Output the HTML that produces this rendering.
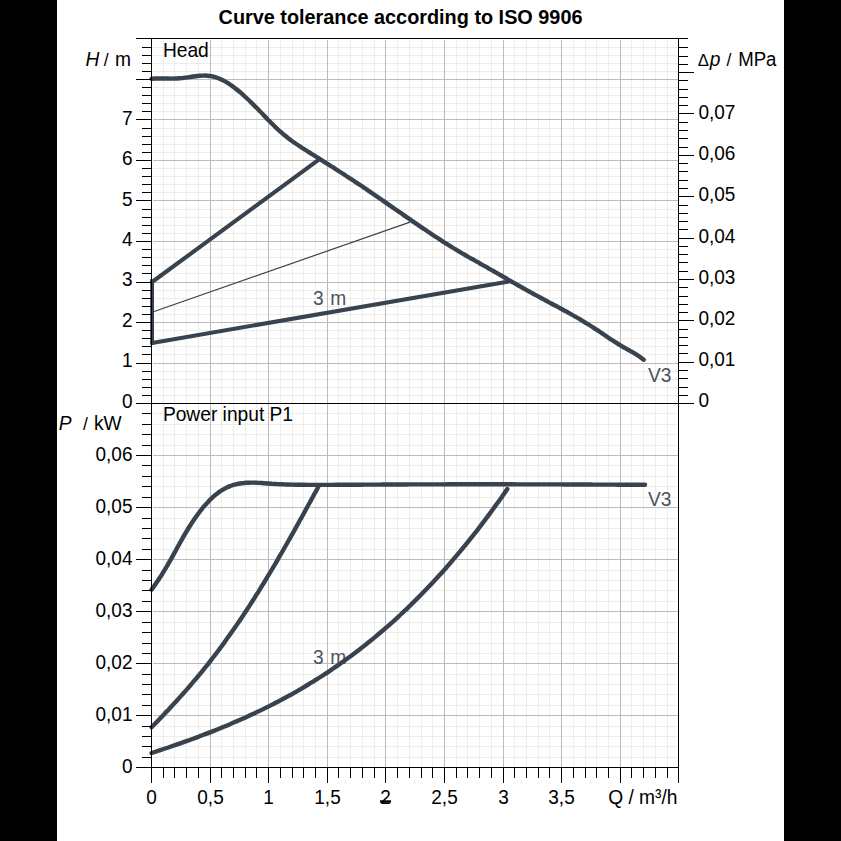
<!DOCTYPE html>
<html><head><meta charset="utf-8"><title>Curve tolerance according to ISO 9906</title>
<style>html,body{margin:0;padding:0;background:#fff}body{width:841px;height:841px;overflow:hidden}svg{display:block}text{font-family:"Liberation Sans",sans-serif;fill:#000}.t{font-size:19px}.b{font-size:19.85px;font-weight:700}.l{font-size:19.2px}.i{font-style:italic}.g{fill:#4b545d}</style></head><body>
<svg width="841" height="841" viewBox="0 0 841 841">
<rect x="0" y="0" width="841" height="841" fill="#fff"/>
<rect x="0" y="0" width="57" height="841" fill="#000"/>
<rect x="784" y="0" width="57" height="841" fill="#000"/>
<path d="M163.5 39.5V766.5M174.5 39.5V766.5M186.5 39.5V766.5M198.5 39.5V766.5M221.5 39.5V766.5M233.5 39.5V766.5M245.5 39.5V766.5M256.5 39.5V766.5M280.5 39.5V766.5M292.5 39.5V766.5M303.5 39.5V766.5M315.5 39.5V766.5M338.5 39.5V766.5M350.5 39.5V766.5M362.5 39.5V766.5M374.5 39.5V766.5M397.5 39.5V766.5M409.5 39.5V766.5M421.5 39.5V766.5M432.5 39.5V766.5M456.5 39.5V766.5M467.5 39.5V766.5M479.5 39.5V766.5M491.5 39.5V766.5M514.5 39.5V766.5M526.5 39.5V766.5M538.5 39.5V766.5M549.5 39.5V766.5M573.5 39.5V766.5M585.5 39.5V766.5M596.5 39.5V766.5M608.5 39.5V766.5M631.5 39.5V766.5M643.5 39.5V766.5M655.5 39.5V766.5M667.5 39.5V766.5M152.5 395.5H678.0M152.5 387.5H678.0M152.5 379.5H678.0M152.5 371.5H678.0M152.5 354.5H678.0M152.5 346.5H678.0M152.5 338.5H678.0M152.5 330.5H678.0M152.5 314.5H678.0M152.5 306.5H678.0M152.5 298.5H678.0M152.5 290.5H678.0M152.5 273.5H678.0M152.5 265.5H678.0M152.5 257.5H678.0M152.5 249.5H678.0M152.5 233.5H678.0M152.5 225.5H678.0M152.5 217.5H678.0M152.5 209.5H678.0M152.5 192.5H678.0M152.5 184.5H678.0M152.5 176.5H678.0M152.5 168.5H678.0M152.5 152.5H678.0M152.5 144.5H678.0M152.5 136.5H678.0M152.5 128.5H678.0M152.5 111.5H678.0M152.5 103.5H678.0M152.5 95.5H678.0M152.5 87.5H678.0M152.5 71.5H678.0M152.5 63.5H678.0M152.5 55.5H678.0M152.5 47.5H678.0M152.5 757.5H678.0M152.5 746.5H678.0M152.5 736.5H678.0M152.5 726.5H678.0M152.5 705.5H678.0M152.5 694.5H678.0M152.5 684.5H678.0M152.5 674.5H678.0M152.5 653.5H678.0M152.5 643.5H678.0M152.5 632.5H678.0M152.5 622.5H678.0M152.5 601.5H678.0M152.5 590.5H678.0M152.5 580.5H678.0M152.5 570.5H678.0M152.5 549.5H678.0M152.5 538.5H678.0M152.5 528.5H678.0M152.5 518.5H678.0M152.5 497.5H678.0M152.5 486.5H678.0M152.5 476.5H678.0M152.5 465.5H678.0M152.5 445.5H678.0M152.5 434.5H678.0M152.5 424.5H678.0M152.5 413.5H678.0" stroke="#eeede9" stroke-width="1" fill="none" shape-rendering="crispEdges"/>
<path d="M210.5 39.5V766.5M268.5 39.5V766.5M327.5 39.5V766.5M385.5 39.5V766.5M444.5 39.5V766.5M503.5 39.5V766.5M561.5 39.5V766.5M620.5 39.5V766.5M152.5 363.5H678.0M152.5 322.5H678.0M152.5 282.5H678.0M152.5 241.5H678.0M152.5 200.5H678.0M152.5 160.5H678.0M152.5 119.5H678.0M152.5 79.5H678.0M152.5 715.5H678.0M152.5 663.5H678.0M152.5 611.5H678.0M152.5 559.5H678.0M152.5 507.5H678.0M152.5 455.5H678.0" stroke="#bcbcbc" stroke-width="1" fill="none" shape-rendering="crispEdges"/>
<text class="l g" transform="translate(313.0 304.5) scale(1 1.05)">3<tspan dx="1.2"> m</tspan></text>
<text class="l g" transform="translate(313.0 663.5) scale(1 1.05)">3<tspan dx="1.2"> m</tspan></text>
<text class="l g" transform="translate(648.0 381.5) scale(1 1.05)">V3</text>
<text class="l g" transform="translate(648.0 505.6) scale(1 1.05)">V3</text>
<g fill="none" stroke="#38434e" stroke-linecap="round" stroke-linejoin="round">
<path d="M151.6 78.7C152.3 78.6 154.3 78.5 155.6 78.5C156.9 78.5 158.3 78.5 159.6 78.5C160.9 78.5 162.3 78.5 163.6 78.5C164.9 78.5 166.3 78.5 167.6 78.5C168.9 78.6 170.3 78.6 171.6 78.6C172.9 78.5 174.3 78.5 175.6 78.5C176.9 78.5 178.3 78.4 179.6 78.3C180.9 78.2 182.3 78.1 183.6 77.9C184.9 77.8 186.3 77.6 187.6 77.4C188.9 77.2 190.3 77.0 191.6 76.8C192.9 76.6 194.3 76.4 195.6 76.2C196.9 76.1 198.3 75.9 199.6 75.8C200.9 75.7 202.3 75.6 203.6 75.6C204.9 75.5 206.3 75.6 207.6 75.7C208.9 75.8 210.3 76.0 211.6 76.2C212.9 76.5 214.3 76.8 215.6 77.2C216.9 77.7 218.3 78.2 219.6 78.7C220.9 79.3 222.3 79.9 223.6 80.6C224.9 81.3 226.3 82.1 227.6 82.9C228.9 83.8 230.3 84.7 231.6 85.6C232.9 86.5 234.3 87.5 235.6 88.6C237.0 89.6 238.3 90.7 239.6 91.8C241.0 92.9 242.3 94.1 243.6 95.3C245.0 96.5 246.3 97.7 247.6 99.0C249.0 100.3 250.3 101.6 251.6 102.9C253.0 104.2 254.3 105.5 255.6 106.9C257.0 108.2 258.3 109.6 259.6 111.0C261.0 112.3 262.3 113.7 263.6 115.1C265.0 116.5 266.3 117.9 267.6 119.3C269.0 120.6 270.3 122.0 271.6 123.3C273.0 124.7 274.3 126.0 275.6 127.3C277.0 128.5 278.3 129.8 279.6 131.0C281.0 132.2 282.3 133.3 283.6 134.5C285.0 135.6 286.3 136.6 287.6 137.7C289.0 138.7 290.3 139.7 291.6 140.7C293.0 141.7 294.3 142.6 295.6 143.5C297.0 144.4 298.3 145.3 299.6 146.2C301.0 147.1 302.3 148.0 303.6 148.8C305.0 149.7 306.3 150.5 307.6 151.4C309.0 152.2 310.3 153.0 311.6 153.9C313.0 154.7 314.3 155.6 315.6 156.4C317.0 157.2 318.3 158.1 319.6 158.9C321.0 159.8 322.3 160.6 323.6 161.5C325.0 162.3 326.3 163.1 327.6 164.0C329.0 164.8 330.3 165.7 331.6 166.5C333.0 167.4 334.3 168.2 335.6 169.1C337.0 169.9 338.3 170.8 339.6 171.7C341.0 172.5 342.3 173.4 343.6 174.2C345.0 175.1 346.3 176.0 347.6 176.8C349.0 177.7 350.3 178.6 351.6 179.4C353.0 180.3 354.3 181.2 355.6 182.1C357.0 183.0 358.3 183.9 359.6 184.7C361.0 185.6 362.3 186.5 363.6 187.4C365.0 188.3 366.3 189.2 367.6 190.1C369.0 191.0 370.3 192.0 371.6 192.9C373.0 193.8 374.3 194.7 375.6 195.6C377.0 196.5 378.3 197.4 379.6 198.4C381.0 199.3 382.3 200.2 383.6 201.1C385.0 202.1 386.3 203.0 387.6 203.9C389.0 204.9 390.3 205.8 391.6 206.7C393.0 207.6 394.3 208.6 395.6 209.5C397.0 210.4 398.3 211.4 399.7 212.3C401.0 213.2 402.3 214.1 403.7 215.1C405.0 216.0 406.3 216.9 407.7 217.8C409.0 218.8 410.3 219.7 411.7 220.6C413.0 221.5 414.3 222.5 415.7 223.4C417.0 224.3 418.3 225.2 419.7 226.1C421.0 227.0 422.3 227.9 423.7 228.8C425.0 229.7 426.3 230.6 427.7 231.5C429.0 232.4 430.3 233.3 431.7 234.2C433.0 235.1 434.3 235.9 435.7 236.8C437.0 237.7 438.3 238.5 439.7 239.4C441.0 240.3 442.3 241.1 443.7 242.0C445.0 242.8 446.3 243.7 447.7 244.5C449.0 245.3 450.3 246.2 451.7 247.0C453.0 247.8 454.3 248.6 455.7 249.4C457.0 250.2 458.3 251.0 459.7 251.8C461.0 252.6 462.3 253.4 463.7 254.2C465.0 255.0 466.3 255.7 467.7 256.5C469.0 257.3 470.3 258.0 471.7 258.8C473.0 259.5 474.3 260.3 475.7 261.1C477.0 261.8 478.3 262.6 479.7 263.3C481.0 264.1 482.3 264.8 483.7 265.6C485.0 266.3 486.3 267.1 487.7 267.8C489.0 268.6 490.3 269.3 491.7 270.1C493.0 270.8 494.3 271.6 495.7 272.4C497.0 273.1 498.3 273.9 499.7 274.7C501.0 275.4 502.3 276.2 503.7 277.0C505.0 277.7 506.3 278.5 507.7 279.3C509.0 280.1 510.3 280.8 511.7 281.6C513.0 282.4 514.3 283.1 515.7 283.9C517.0 284.7 518.3 285.4 519.7 286.2C521.0 287.0 522.3 287.7 523.7 288.5C525.0 289.2 526.3 290.0 527.7 290.7C529.0 291.5 530.3 292.2 531.7 292.9C533.0 293.7 534.3 294.4 535.7 295.1C537.0 295.8 538.3 296.6 539.7 297.3C541.0 298.0 542.3 298.7 543.7 299.4C545.0 300.1 546.3 300.9 547.7 301.6C549.0 302.3 550.3 303.0 551.7 303.7C553.0 304.4 554.3 305.1 555.7 305.8C557.0 306.5 558.3 307.3 559.7 308.0C561.0 308.7 562.4 309.4 563.7 310.2C565.0 310.9 566.4 311.6 567.7 312.3C569.0 313.1 570.4 313.8 571.7 314.6C573.0 315.3 574.4 316.1 575.7 316.9C577.0 317.6 578.4 318.4 579.7 319.2C581.0 320.0 582.4 320.8 583.7 321.6C585.0 322.4 586.4 323.2 587.7 324.0C589.0 324.8 590.4 325.7 591.7 326.5C593.0 327.4 594.4 328.2 595.7 329.1C597.0 330.0 598.4 330.9 599.7 331.8C601.0 332.7 602.4 333.6 603.7 334.5C605.0 335.4 606.4 336.3 607.7 337.2C609.0 338.1 610.4 339.0 611.7 339.9C613.0 340.7 614.4 341.6 615.7 342.4C617.0 343.3 618.4 344.1 619.7 344.9C621.0 345.7 622.4 346.5 623.7 347.3C625.0 348.0 626.4 348.8 627.7 349.5C629.0 350.2 630.4 351.0 631.7 351.7C633.0 352.5 634.4 353.3 635.7 354.1C637.0 354.9 638.4 355.8 639.7 356.7C641.0 357.7 643.0 359.2 643.7 359.7" stroke-width="4.4"/>
<path d="M318.5 159.9L152.1 282M152.1 342.9L509 281.5" stroke-width="4.1"/>
<path d="M152.1 279.2V344.8" stroke-width="3.8" stroke-linecap="butt"/>
<path d="M152 312.3L410 222.1" stroke-width="1.2" stroke-linecap="butt"/>
<path d="M151.6 589.6C152.3 588.7 154.3 585.9 155.6 584.0C156.9 582.1 158.3 580.1 159.6 578.0C161.0 576.0 162.3 573.8 163.6 571.7C165.0 569.5 166.3 567.3 167.6 565.0C169.0 562.7 170.3 560.3 171.7 557.9C173.0 555.5 174.3 553.1 175.7 550.6C177.0 548.2 178.3 545.7 179.7 543.3C181.0 540.9 182.4 538.5 183.7 536.2C185.0 533.9 186.4 531.6 187.7 529.5C189.0 527.3 190.4 525.2 191.7 523.1C193.1 521.1 194.4 519.1 195.7 517.2C197.1 515.3 198.4 513.5 199.7 511.7C201.1 510.0 202.4 508.3 203.7 506.7C205.1 505.1 206.4 503.6 207.8 502.2C209.1 500.7 210.4 499.4 211.8 498.1C213.1 496.8 214.4 495.7 215.8 494.6C217.1 493.5 218.5 492.5 219.8 491.5C221.1 490.6 222.5 489.8 223.8 489.1C225.1 488.3 226.5 487.6 227.8 487.0C229.2 486.5 230.5 485.9 231.8 485.5C233.2 485.0 234.5 484.7 235.8 484.3C237.2 484.0 238.5 483.7 239.9 483.5C241.2 483.3 242.5 483.1 243.9 483.0C245.2 482.8 246.5 482.8 247.9 482.7C249.2 482.6 250.5 482.6 251.9 482.6C253.2 482.6 254.6 482.7 255.9 482.7C257.2 482.8 258.6 482.9 259.9 482.9C261.2 483.0 262.6 483.1 263.9 483.2C265.3 483.3 266.6 483.4 267.9 483.5C269.3 483.6 270.6 483.7 271.9 483.8C273.3 483.8 274.6 483.9 276.0 484.0C277.3 484.1 278.6 484.1 280.0 484.2C281.3 484.3 282.6 484.3 284.0 484.4C285.3 484.4 286.6 484.5 288.0 484.5C289.3 484.6 290.7 484.6 292.0 484.6C293.3 484.7 294.7 484.7 296.0 484.7C297.3 484.7 298.7 484.8 300.0 484.8C301.4 484.8 302.7 484.8 304.0 484.8C305.4 484.9 306.7 484.9 308.0 484.9C309.4 484.9 310.7 484.9 312.1 484.9C313.4 484.9 314.7 484.9 316.1 484.9C317.4 484.9 318.7 484.9 320.1 484.9C321.4 484.9 322.8 484.9 324.1 484.9C325.4 484.9 326.8 484.9 328.1 484.9C329.4 484.9 330.8 484.9 332.1 484.9C333.4 484.8 334.8 484.8 336.1 484.8C337.5 484.8 338.8 484.8 340.1 484.8C341.5 484.8 342.8 484.8 344.1 484.8C345.5 484.8 346.8 484.8 348.2 484.7C349.5 484.7 350.8 484.7 352.2 484.7C353.5 484.7 354.8 484.7 356.2 484.7C357.5 484.7 358.9 484.7 360.2 484.7C361.5 484.7 362.9 484.7 364.2 484.6C365.5 484.6 366.9 484.6 368.2 484.6C369.6 484.6 370.9 484.6 372.2 484.6C373.6 484.6 374.9 484.6 376.2 484.6C377.6 484.6 378.9 484.6 380.2 484.6C381.6 484.6 382.9 484.5 384.3 484.5C385.6 484.5 386.9 484.5 388.3 484.5C389.6 484.5 390.9 484.5 392.3 484.5C393.6 484.5 395.0 484.5 396.3 484.5C397.6 484.5 399.0 484.5 400.3 484.5C401.6 484.5 403.0 484.5 404.3 484.5C405.7 484.5 407.0 484.4 408.3 484.4C409.7 484.4 411.0 484.4 412.3 484.4C413.7 484.4 415.0 484.4 416.4 484.4C417.7 484.4 419.0 484.4 420.4 484.4C421.7 484.4 423.0 484.4 424.4 484.4C425.7 484.4 427.0 484.4 428.4 484.4C429.7 484.4 431.1 484.4 432.4 484.4C433.7 484.4 435.1 484.4 436.4 484.4C437.7 484.4 439.1 484.4 440.4 484.4C441.8 484.4 443.1 484.4 444.4 484.4C445.8 484.4 447.1 484.4 448.4 484.3C449.8 484.3 451.1 484.3 452.5 484.3C453.8 484.3 455.1 484.3 456.5 484.3C457.8 484.3 459.1 484.3 460.5 484.3C461.8 484.3 463.2 484.3 464.5 484.3C465.8 484.3 467.2 484.3 468.5 484.3C469.8 484.3 471.2 484.3 472.5 484.3C473.8 484.3 475.2 484.3 476.5 484.3C477.9 484.3 479.2 484.3 480.5 484.3C481.9 484.3 483.2 484.3 484.5 484.3C485.9 484.3 487.2 484.3 488.6 484.3C489.9 484.3 491.2 484.3 492.6 484.3C493.9 484.3 495.2 484.3 496.6 484.3C497.9 484.3 499.3 484.3 500.6 484.3C501.9 484.3 503.3 484.3 504.6 484.3C505.9 484.3 507.3 484.3 508.6 484.3C510.0 484.3 511.3 484.3 512.6 484.3C514.0 484.3 515.3 484.3 516.6 484.4C518.0 484.4 519.3 484.4 520.6 484.4C522.0 484.4 523.3 484.4 524.7 484.4C526.0 484.4 527.3 484.4 528.7 484.4C530.0 484.4 531.3 484.4 532.7 484.4C534.0 484.4 535.4 484.4 536.7 484.4C538.0 484.4 539.4 484.4 540.7 484.4C542.0 484.4 543.4 484.4 544.7 484.4C546.1 484.4 547.4 484.4 548.7 484.4C550.1 484.4 551.4 484.4 552.7 484.4C554.1 484.4 555.4 484.4 556.7 484.4C558.1 484.4 559.4 484.4 560.8 484.4C562.1 484.5 563.4 484.5 564.8 484.5C566.1 484.5 567.4 484.5 568.8 484.5C570.1 484.5 571.5 484.5 572.8 484.5C574.1 484.5 575.5 484.5 576.8 484.5C578.1 484.5 579.5 484.5 580.8 484.5C582.2 484.5 583.5 484.5 584.8 484.5C586.2 484.5 587.5 484.5 588.8 484.5C590.2 484.5 591.5 484.6 592.9 484.6C594.2 484.6 595.5 484.6 596.9 484.6C598.2 484.6 599.5 484.6 600.9 484.6C602.2 484.6 603.5 484.6 604.9 484.6C606.2 484.6 607.6 484.6 608.9 484.6C610.2 484.6 611.6 484.6 612.9 484.6C614.2 484.6 615.6 484.7 616.9 484.7C618.3 484.7 619.6 484.7 620.9 484.7C622.3 484.7 623.6 484.7 624.9 484.7C626.3 484.7 627.6 484.7 629.0 484.7C630.3 484.7 631.6 484.7 633.0 484.7C634.3 484.7 635.6 484.7 637.0 484.8C638.3 484.8 639.7 484.8 641.0 484.8C642.3 484.8 644.3 484.8 645.0 484.8" stroke-width="4.4"/>
<path d="M151.6 727.2C152.3 726.5 154.4 724.3 155.9 722.8C157.3 721.4 158.7 719.9 160.1 718.4C161.6 716.9 163.0 715.4 164.4 713.9C165.8 712.4 167.3 710.9 168.7 709.4C170.1 707.9 171.5 706.4 173.0 704.8C174.4 703.3 175.8 701.7 177.2 700.2C178.7 698.6 180.1 697.0 181.5 695.4C182.9 693.8 184.4 692.2 185.8 690.6C187.2 689.0 188.6 687.4 190.1 685.7C191.5 684.1 192.9 682.4 194.3 680.7C195.8 679.0 197.2 677.3 198.6 675.6C200.0 673.9 201.5 672.2 202.9 670.4C204.3 668.6 205.7 666.9 207.2 665.1C208.6 663.3 210.0 661.5 211.4 659.6C212.9 657.8 214.3 655.9 215.7 654.1C217.1 652.2 218.6 650.3 220.0 648.4C221.4 646.5 222.8 644.5 224.3 642.6C225.7 640.6 227.1 638.6 228.5 636.6C230.0 634.6 231.4 632.6 232.8 630.6C234.2 628.5 235.7 626.5 237.1 624.4C238.5 622.3 239.9 620.2 241.4 618.1C242.8 616.0 244.2 613.8 245.6 611.6C247.1 609.5 248.5 607.3 249.9 605.1C251.3 602.9 252.8 600.6 254.2 598.4C255.6 596.1 257.0 593.9 258.5 591.6C259.9 589.3 261.3 587.0 262.7 584.7C264.2 582.4 265.6 580.0 267.0 577.6C268.4 575.3 269.9 572.9 271.3 570.5C272.7 568.1 274.1 565.7 275.6 563.3C277.0 560.8 278.4 558.4 279.8 555.9C281.3 553.5 282.7 551.0 284.1 548.5C285.5 546.0 287.0 543.5 288.4 541.0C289.8 538.5 291.2 536.0 292.7 533.4C294.1 530.9 295.5 528.3 296.9 525.8C298.4 523.2 299.8 520.6 301.2 518.1C302.6 515.5 304.1 512.9 305.5 510.3C306.9 507.7 308.3 505.1 309.8 502.5C311.2 499.9 312.6 497.3 314.0 494.7C315.5 492.1 317.6 488.1 318.3 486.8" stroke-width="4.4"/>
<path d="M151.6 753.0C152.6 752.7 155.6 751.7 157.6 751.0C159.6 750.4 161.6 749.7 163.7 749.0C165.7 748.3 167.7 747.7 169.7 747.0C171.7 746.3 173.7 745.6 175.7 744.9C177.7 744.2 179.7 743.5 181.7 742.8C183.8 742.1 185.8 741.4 187.8 740.7C189.8 739.9 191.8 739.2 193.8 738.5C195.8 737.7 197.8 737.0 199.8 736.2C201.8 735.5 203.8 734.7 205.9 733.9C207.9 733.2 209.9 732.4 211.9 731.6C213.9 730.8 215.9 730.0 217.9 729.2C219.9 728.4 221.9 727.6 223.9 726.7C226.0 725.9 228.0 725.1 230.0 724.2C232.0 723.4 234.0 722.5 236.0 721.6C238.0 720.8 240.0 719.9 242.0 719.0C244.0 718.1 246.1 717.2 248.1 716.3C250.1 715.3 252.1 714.4 254.1 713.5C256.1 712.5 258.1 711.6 260.1 710.6C262.1 709.6 264.1 708.6 266.1 707.6C268.2 706.6 270.2 705.6 272.2 704.6C274.2 703.6 276.2 702.5 278.2 701.5C280.2 700.4 282.2 699.4 284.2 698.3C286.2 697.2 288.3 696.1 290.3 695.0C292.3 693.9 294.3 692.7 296.3 691.6C298.3 690.4 300.3 689.3 302.3 688.1C304.3 686.9 306.3 685.7 308.3 684.5C310.4 683.3 312.4 682.0 314.4 680.8C316.4 679.5 318.4 678.3 320.4 677.0C322.4 675.7 324.4 674.4 326.4 673.1C328.4 671.7 330.5 670.4 332.5 669.0C334.5 667.7 336.5 666.3 338.5 664.9C340.5 663.5 342.5 662.0 344.5 660.6C346.5 659.2 348.5 657.7 350.6 656.2C352.6 654.7 354.6 653.2 356.6 651.7C358.6 650.2 360.6 648.6 362.6 647.1C364.6 645.5 366.6 643.9 368.6 642.3C370.6 640.7 372.7 639.0 374.7 637.4C376.7 635.7 378.7 634.0 380.7 632.3C382.7 630.6 384.7 628.9 386.7 627.1C388.7 625.4 390.7 623.6 392.8 621.8C394.8 620.0 396.8 618.2 398.8 616.3C400.8 614.4 402.8 612.6 404.8 610.7C406.8 608.8 408.8 606.8 410.8 604.9C412.8 602.9 414.9 600.9 416.9 598.9C418.9 596.9 420.9 594.9 422.9 592.8C424.9 590.8 426.9 588.7 428.9 586.6C430.9 584.5 432.9 582.3 435.0 580.1C437.0 578.0 439.0 575.8 441.0 573.6C443.0 571.3 445.0 569.1 447.0 566.8C449.0 564.5 451.0 562.2 453.0 559.8C455.1 557.5 457.1 555.1 459.1 552.7C461.1 550.3 463.1 547.9 465.1 545.4C467.1 543.0 469.1 540.5 471.1 537.9C473.1 535.4 475.1 532.9 477.2 530.3C479.2 527.7 481.2 525.1 483.2 522.4C485.2 519.8 487.2 517.1 489.2 514.4C491.2 511.6 493.2 508.9 495.2 506.1C497.3 503.3 499.3 500.5 501.3 497.7C503.3 494.8 506.3 490.5 507.3 489.0" stroke-width="4.4"/>
</g>
<path d="M151.5 38.0V782.5M678.5 38.0V782.5M136.0 38.5H688.0M136.0 403.5H694.0M136.0 767.5H679.0M142.0 395.5H151.5M142.0 387.5H151.5M142.0 379.5H151.5M142.0 371.5H151.5M136.0 363.5H151.5M142.0 354.5H151.5M142.0 346.5H151.5M142.0 338.5H151.5M142.0 330.5H151.5M136.0 322.5H151.5M142.0 314.5H151.5M142.0 306.5H151.5M142.0 298.5H151.5M142.0 290.5H151.5M136.0 282.5H151.5M142.0 273.5H151.5M142.0 265.5H151.5M142.0 257.5H151.5M142.0 249.5H151.5M136.0 241.5H151.5M142.0 233.5H151.5M142.0 225.5H151.5M142.0 217.5H151.5M142.0 209.5H151.5M136.0 200.5H151.5M142.0 192.5H151.5M142.0 184.5H151.5M142.0 176.5H151.5M142.0 168.5H151.5M136.0 160.5H151.5M142.0 152.5H151.5M142.0 144.5H151.5M142.0 136.5H151.5M142.0 128.5H151.5M136.0 119.5H151.5M142.0 111.5H151.5M142.0 103.5H151.5M142.0 95.5H151.5M142.0 87.5H151.5M136.0 79.5H151.5M142.0 71.5H151.5M142.0 63.5H151.5M142.0 55.5H151.5M142.0 47.5H151.5M142.0 757.5H151.5M142.0 746.5H151.5M142.0 736.5H151.5M142.0 726.5H151.5M136.0 715.5H151.5M142.0 705.5H151.5M142.0 694.5H151.5M142.0 684.5H151.5M142.0 674.5H151.5M136.0 663.5H151.5M142.0 653.5H151.5M142.0 643.5H151.5M142.0 632.5H151.5M142.0 622.5H151.5M136.0 611.5H151.5M142.0 601.5H151.5M142.0 590.5H151.5M142.0 580.5H151.5M142.0 570.5H151.5M136.0 559.5H151.5M142.0 549.5H151.5M142.0 538.5H151.5M142.0 528.5H151.5M142.0 518.5H151.5M136.0 507.5H151.5M142.0 497.5H151.5M142.0 486.5H151.5M142.0 476.5H151.5M142.0 465.5H151.5M136.0 455.5H151.5M142.0 445.5H151.5M142.0 434.5H151.5M142.0 424.5H151.5M142.0 413.5H151.5M678.5 395.5H688.0M678.5 387.5H688.0M678.5 378.5H688.0M678.5 370.5H688.0M678.5 362.5H694.0M678.5 353.5H688.0M678.5 345.5H688.0M678.5 337.5H688.0M678.5 329.5H688.0M678.5 320.5H694.0M678.5 312.5H688.0M678.5 304.5H688.0M678.5 296.5H688.0M678.5 287.5H688.0M678.5 279.5H694.0M678.5 271.5H688.0M678.5 262.5H688.0M678.5 254.5H688.0M678.5 246.5H688.0M678.5 238.5H694.0M678.5 229.5H688.0M678.5 221.5H688.0M678.5 213.5H688.0M678.5 205.5H688.0M678.5 196.5H694.0M678.5 188.5H688.0M678.5 180.5H688.0M678.5 171.5H688.0M678.5 163.5H688.0M678.5 155.5H694.0M678.5 147.5H688.0M678.5 138.5H688.0M678.5 130.5H688.0M678.5 122.5H688.0M678.5 113.5H694.0M678.5 105.5H688.0M678.5 97.5H688.0M678.5 89.5H688.0M678.5 80.5H688.0M678.5 72.5H694.0M678.5 64.5H688.0M678.5 56.5H688.0M678.5 47.5H688.0M163.5 767.5V777.5M174.5 767.5V777.5M186.5 767.5V777.5M198.5 767.5V777.5M210.5 767.5V782.5M221.5 767.5V777.5M233.5 767.5V777.5M245.5 767.5V777.5M256.5 767.5V777.5M268.5 767.5V782.5M280.5 767.5V777.5M292.5 767.5V777.5M303.5 767.5V777.5M315.5 767.5V777.5M327.5 767.5V782.5M338.5 767.5V777.5M350.5 767.5V777.5M362.5 767.5V777.5M374.5 767.5V777.5M385.5 767.5V782.5M397.5 767.5V777.5M409.5 767.5V777.5M421.5 767.5V777.5M432.5 767.5V777.5M444.5 767.5V782.5M456.5 767.5V777.5M467.5 767.5V777.5M479.5 767.5V777.5M491.5 767.5V777.5M503.5 767.5V782.5M514.5 767.5V777.5M526.5 767.5V777.5M538.5 767.5V777.5M549.5 767.5V777.5M561.5 767.5V782.5M573.5 767.5V777.5M585.5 767.5V777.5M596.5 767.5V777.5M608.5 767.5V777.5M620.5 767.5V782.5M631.5 767.5V777.5M643.5 767.5V777.5M655.5 767.5V777.5M667.5 767.5V777.5" stroke="#000" stroke-width="1" fill="none" shape-rendering="crispEdges"/>
<text class="b" transform="translate(400.5 23.6) scale(1 1.05)" text-anchor="middle">Curve tolerance according to ISO 9906</text>
<text class="l" transform="translate(162.9 57.3) scale(1 1.05)">Head</text>
<text class="l" transform="translate(162.9 420.7) scale(1 1.05)">Power input P1</text>
<text class="l" transform="translate(0 65.9) scale(1 1.05)"><tspan x="85.5" class="i">H</tspan><tspan x="103.8" font-size="17.6">/</tspan><tspan x="115.0">m</tspan></text>
<text class="l" transform="translate(0 429.6) scale(1 1.05)"><tspan x="58.7" class="i">P</tspan><tspan x="83.1" font-size="17.6">/</tspan><tspan x="93.9">kW</tspan></text>
<text class="l" transform="translate(0 65.6) scale(1 1.05)"><tspan x="698.3" font-size="16.6">∆</tspan><tspan x="709.8" class="i">p</tspan><tspan x="726.5" font-size="17.6">/</tspan><tspan x="738.2" font-size="18.6">MPa</tspan></text>
<text class="t" transform="translate(132.5 407.6) scale(1 1.05)" text-anchor="end">0</text>
<text class="t" transform="translate(132.5 367.2) scale(1 1.05)" text-anchor="end">1</text>
<text class="t" transform="translate(132.5 326.7) scale(1 1.05)" text-anchor="end">2</text>
<text class="t" transform="translate(132.5 286.3) scale(1 1.05)" text-anchor="end">3</text>
<text class="t" transform="translate(132.5 245.9) scale(1 1.05)" text-anchor="end">4</text>
<text class="t" transform="translate(132.5 205.5) scale(1 1.05)" text-anchor="end">5</text>
<text class="t" transform="translate(132.5 165.0) scale(1 1.05)" text-anchor="end">6</text>
<text class="t" transform="translate(132.5 124.6) scale(1 1.05)" text-anchor="end">7</text>
<text class="t" transform="translate(132.5 772.9) scale(1 1.05)" text-anchor="end">0</text>
<text class="t" transform="translate(132.5 720.9) scale(1 1.05)" text-anchor="end">0,01</text>
<text class="t" transform="translate(132.5 668.9) scale(1 1.05)" text-anchor="end">0,02</text>
<text class="t" transform="translate(132.5 616.9) scale(1 1.05)" text-anchor="end">0,03</text>
<text class="t" transform="translate(132.5 564.9) scale(1 1.05)" text-anchor="end">0,04</text>
<text class="t" transform="translate(132.5 512.9) scale(1 1.05)" text-anchor="end">0,05</text>
<text class="t" transform="translate(132.5 460.9) scale(1 1.05)" text-anchor="end">0,06</text>
<text class="t" transform="translate(698.4 407.1) scale(1 1.05)">0</text>
<text class="t" transform="translate(698.4 366.0) scale(1 1.05)">0,01</text>
<text class="t" transform="translate(698.4 324.8) scale(1 1.05)">0,02</text>
<text class="t" transform="translate(698.4 283.7) scale(1 1.05)">0,03</text>
<text class="t" transform="translate(698.4 242.5) scale(1 1.05)">0,04</text>
<text class="t" transform="translate(698.4 201.4) scale(1 1.05)">0,05</text>
<text class="t" transform="translate(698.4 160.3) scale(1 1.05)">0,06</text>
<text class="t" transform="translate(698.4 119.1) scale(1 1.05)">0,07</text>
<text class="t" transform="translate(151.5 804.0) scale(1 1.05)" text-anchor="middle">0</text>
<text class="t" transform="translate(210.5 804.0) scale(1 1.05)" text-anchor="middle">0,5</text>
<text class="t" transform="translate(268.5 804.0) scale(1 1.05)" text-anchor="middle">1</text>
<text class="t" transform="translate(327.5 804.0) scale(1 1.05)" text-anchor="middle">1,5</text>
<text class="t" transform="translate(385.5 804.0) scale(1 1.05)" text-anchor="middle">2</text>
<text class="t" transform="translate(444.5 804.0) scale(1 1.05)" text-anchor="middle">2,5</text>
<text class="t" transform="translate(503.5 804.0) scale(1 1.05)" text-anchor="middle">3</text>
<text class="t" transform="translate(561.5 804.0) scale(1 1.05)" text-anchor="middle">3,5</text>
<text class="l" transform="translate(677.5 804.2) scale(1 1.05)" text-anchor="end">Q / m³/h</text>
<rect x="380" y="800.3" width="11" height="2.4" fill="#000"/>
</svg></body></html>
